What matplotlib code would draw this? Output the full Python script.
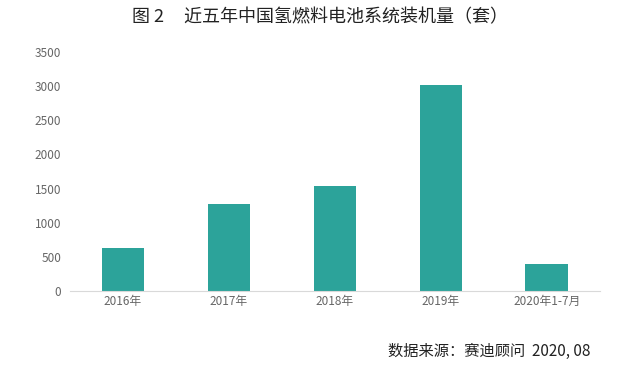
import matplotlib.pyplot as plt

plt.rcParams['font.family'] = ['Noto Sans CJK SC', 'DejaVu Sans']

# data
categories = ['2016年', '2017年', '2018年', '2019年', '2020年1-7月']
units = [630, 1275, 1540, 3020, 400]
y_ticks = [0, 500, 1000, 1500, 2000, 2500, 3000, 3500]

bar_color = '#2ca39a'
text_color = '#666666'

fig = plt.figure(figsize=(6.4, 3.68), dpi=100)
ax = fig.add_axes([0.109, 0.209, 0.828, 0.650])

x = range(len(categories))
ax.bar(x, units, width=0.4, color=bar_color)

ax.set_xlim(-0.5, len(categories) - 0.5)
ax.set_ylim(0, 3500)
ax.set_yticks(y_ticks)
ax.set_xticks(list(x))
ax.set_xticklabels(categories)
ax.tick_params(axis='both', length=0, labelsize=8.5, colors=text_color)
ax.tick_params(axis='y', pad=6)
ax.tick_params(axis='x', pad=3)

for side in ['top', 'right', 'left']:
    ax.spines[side].set_visible(False)
ax.spines['bottom'].set_color('#d9d9d9')
ax.spines['bottom'].set_linewidth(0.8)

fig.text(0.5, 0.953, '图 2     近五年中国氢燃料电池系统装机量（套）',
         ha='center', va='center', fontsize=13, color='#222222')
fig.text(0.922, 0.046, '数据来源：赛迪顾问  2020, 08',
         ha='right', va='center', fontsize=11, color='#222222')

fig.savefig('out.png', dpi=100)
